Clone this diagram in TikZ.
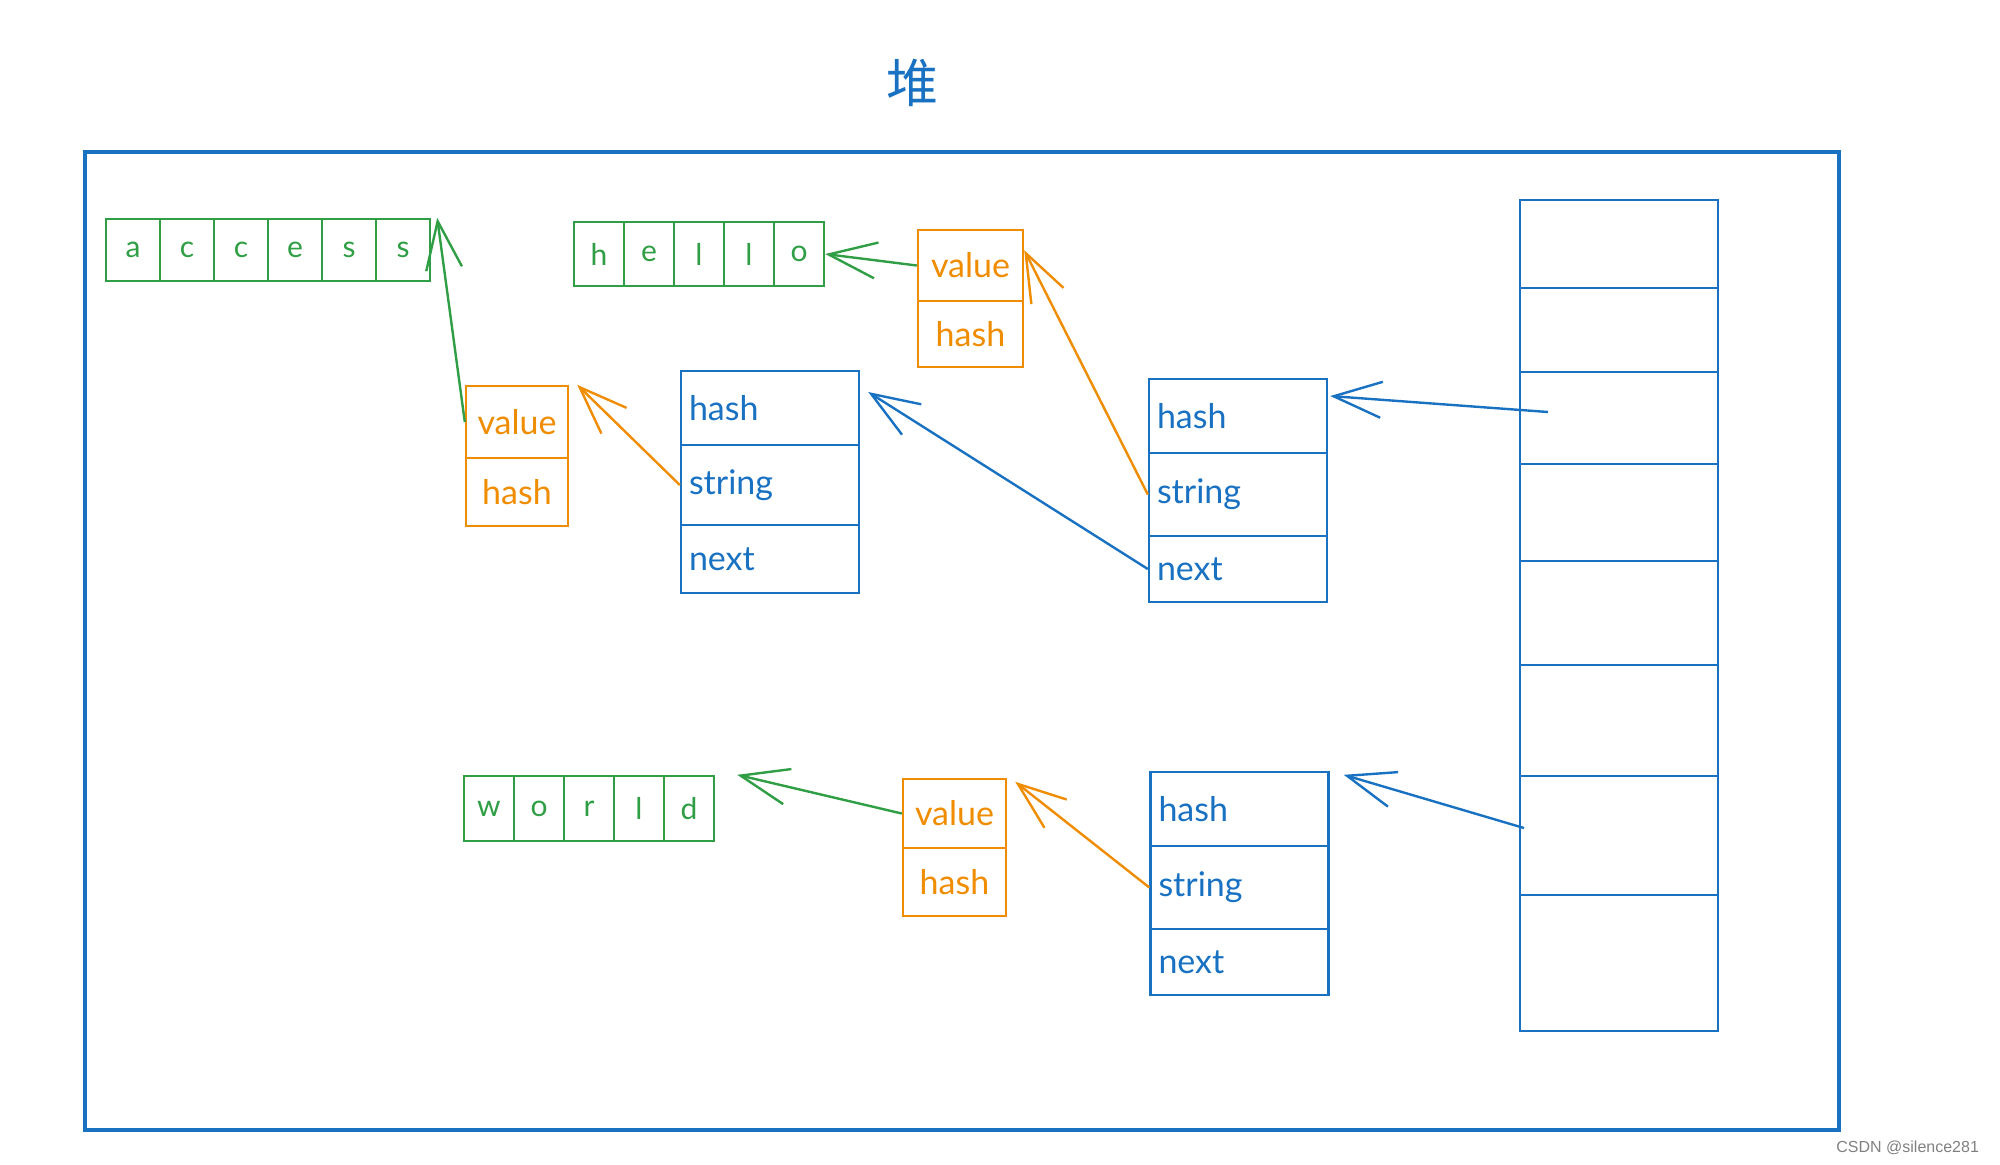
\documentclass[tikz,border=0pt]{standalone}
\usepackage{fontspec}
\setmainfont{Lato}
\newfontfamily\cjkfont{Noto Sans CJK SC}
\newfontfamily\wmfont{Liberation Sans}
\usetikzlibrary{arrows.meta}
\definecolor{cblue}{HTML}{1971C2}
\definecolor{cgreen}{HTML}{2F9E44}
\definecolor{corange}{HTML}{F08C00}
\begin{document}
\begin{tikzpicture}[x=0.5pt,y=-0.5pt,
  frame/.style={draw=cblue, line width=2pt, minimum width=877pt, minimum height=489pt},
  bcell/.style={draw=cblue, line width=1.2pt, minimum width=89pt, text width=81pt, inner xsep=4pt, inner ysep=0pt, align=left, text=cblue, font=\fontsize{17}{20}\selectfont},
  ocell/.style={draw=corange, line width=1.2pt, inner sep=0pt, text=corange, font=\fontsize{17}{20}\selectfont},
  gcell/.style={draw=cgreen, line width=1.2pt, inner sep=0pt, text=cgreen, minimum width=25pt, font=\fontsize{15}{18}\selectfont},
  bucket/.style={draw=cblue, line width=1.2pt, minimum width=99pt, inner sep=0pt},
  arr/.style={line width=1.2pt, -{Straight Barb[length=24pt,width=18pt]}},
]
\useasboundingbox (0,0) rectangle (2000,1164);

\node[frame] (heap) at (962,641) {};
\node[text=cblue, font=\cjkfont\fontsize{26}{30}\selectfont] (ttl) at (912,83) {堆};

% access
\foreach \ch [count=\i] in {a,c,c,e,s,s}
  \node[gcell, minimum width=27pt, minimum height=31pt] (a\i) at ({79+54*\i},250) {\ch};
% hello
\foreach \ch [count=\i] in {h,e,l,l,o}
  \node[gcell, minimum height=32pt] (h\i) at ({549+50*\i},254) {\ch};
% world
\foreach \ch [count=\i] in {w,o,r,l,d}
  \node[gcell, minimum height=32.5pt] (w\i) at ({439+50*\i},808.5) {\ch};

% orange value/hash boxes
\node[ocell, minimum width=52.5pt, minimum height=35.5pt] (ot1) at (970.5,265.5) {value};
\node[ocell, minimum width=52.5pt, minimum height=33pt] (ot2) at (970.5,334) {hash};
\node[ocell, minimum width=51pt, minimum height=36pt] (ol1) at (517,422) {value};
\node[ocell, minimum width=51pt, minimum height=34pt] (ol2) at (517,492) {hash};
\node[ocell, minimum width=51.5pt, minimum height=34.5pt] (ob1) at (954.5,813.5) {value};
\node[ocell, minimum width=51.5pt, minimum height=34pt] (ob2) at (954.5,882) {hash};

% blue structs
\node[bcell, minimum height=37pt] (b1h) at (770,408) {hash};
\node[bcell, minimum height=40pt] (b1s) at (770,485) {string};
\node[bcell, minimum height=34pt] (b1n) at (770,559) {next};

\node[bcell, minimum height=37pt] (b2h) at (1238,416) {hash};
\node[bcell, minimum height=41.5pt] (b2s) at (1238,494.5) {string};
\node[bcell, minimum height=33pt] (b2n) at (1238,569) {next};

\node[bcell, minimum height=37pt] (b3h) at (1239.5,809) {hash};
\node[bcell, minimum height=41.5pt] (b3s) at (1239.5,887.5) {string};
\node[bcell, minimum height=33pt] (b3n) at (1239.5,962) {next};

% bucket array
\foreach \c/\h [count=\i] in {244/44, 330/42, 418/46, 512.5/48.5, 613/52, 720.5/55.5, 835.5/59.5, 963/68}
  \node[bucket, minimum height=\h pt] (bk\i) at (1619,\c) {};
\coordinate (p3) at (1548,412);
\coordinate (p7) at (1524,828);

% arrows
\draw[arr, cgreen] (ot1.west) -- (h5.east);
\draw[arr, cgreen] (ol1.west) -- ([xshift=3pt]a6.north east);
\draw[arr, cgreen] (ob1.west) -- ([xshift=11pt]w5.north east);
\draw[arr, corange] (b2s.west) -- (ot1.16);
\draw[arr, corange] (b1s.west) -- ([xshift=4pt]ol1.north east);
\draw[arr, corange] (b3s.west) -- ([xshift=4pt,yshift=-2pt]ob1.north east);
\draw[arr, cblue] (b2n.west) -- ([xshift=4pt,yshift=8pt]b1h.east);
\draw[arr, cblue] (p3) -- ([xshift=1pt,yshift=10pt]b2h.east);
\draw[arr, cblue] (p7) -- ([xshift=7pt,yshift=-2pt]b3h.north east);

\node[anchor=east, text=black!50, font=\wmfont\fontsize{8}{10}\selectfont] (wm) at (1986,1148) {CSDN @silence281};
\end{tikzpicture}
\end{document}
